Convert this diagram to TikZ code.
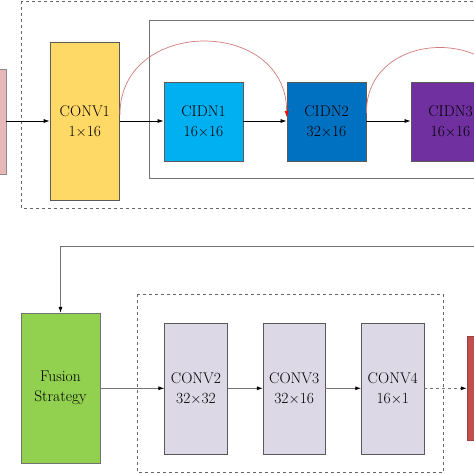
\documentclass[tikz,border=0pt]{standalone}
\usetikzlibrary{arrows.meta}
\definecolor{pinkin}{HTML}{E8B8B8}
\definecolor{convyel}{HTML}{FFD966}
\definecolor{cidnA}{HTML}{00B0F0}
\definecolor{cidnB}{HTML}{0070C0}
\definecolor{cidnC}{HTML}{7030A0}
\definecolor{fusegreen}{HTML}{92D050}
\definecolor{convgray}{HTML}{DCD8E6}
\definecolor{outred}{HTML}{C0504D}
\definecolor{arcred}{HTML}{D07A7A}
\tikzset{
  block/.style={draw=black!65, line width=0.8pt, inner sep=0pt, align=center,
    text=black, font=\fontsize{15.5pt}{20pt}\selectfont},
  arr/.style={line width=0.7pt, -{Latex[length=6pt,width=4pt]}},
  skiparc/.style={arcred, line width=0.7pt, -{Latex[length=6pt,width=4pt,color=red]}},
  grayarr/.style={black!55, line width=0.9pt, -{Latex[length=6pt,width=4pt,color=black]}}
}

\begin{document}
\begin{tikzpicture}[x=1pt,y=1pt]
				\useasboundingbox (0,0) rectangle (474,474);
				\clip (0,0) rectangle (474,474);
				
				% upper part
				\draw[black!60, line width=0.9pt, dashed] (21, 473) rectangle (520, 266);
				\draw[black!55, line width=0.9pt] (149, 453.3) rectangle (520, 296);
				
				\node[block, fill=pinkin, draw=black!45, minimum width=20, minimum height=105] (inp) at (-4, 352.5) {};
				\node[block, fill=convyel, minimum width=69.5, minimum height=158] (conv1) at (84.8, 352.7) {CONV1\\1$\times$16};
				\node[block, fill=cidnA, minimum width=79, minimum height=79] (cidn1) at (203.5, 352.5) {CIDN1\\16$\times$16};
				\node[block, fill=cidnB, minimum width=79, minimum height=79] (cidn2) at (326.5, 352.5) {CIDN2\\32$\times$16};
				\node[block, fill=cidnC, minimum width=79, minimum height=79] (cidn3) at (450.5, 352.5) {CIDN3\\16$\times$16};
				\coordinate (arcend) at (516, 357);
				
				\draw[arr] (inp.east |- 0,353) -- (conv1.west |- 0,353);
				\draw[arr] (conv1.east |- 0,353) -- (cidn1.west |- 0,353);
				\draw[arr] (cidn1.east |- 0,353) -- (cidn2.west |- 0,353);
				\draw[arr] (cidn2.east |- 0,353) -- (cidn3.west |- 0,353);
				
				\draw[skiparc] ([yshift=6.5pt]conv1.east) .. controls (119.5, 457) and (287, 457) .. ([yshift=4.5pt]cidn2.west);
				\draw[arcred, line width=0.7pt] ([yshift=8.5pt]cidn2.east) .. controls (366, 449) and (516, 449) .. (arcend);
				
				% lower part
				\node[block, fill=fusegreen, draw=black!55, minimum width=79, minimum height=150] (fusion) at (60.5, 85.7) {Fusion\\Strategy};
				\draw[black!60, line width=0.8pt, dashed] (137, 180) rectangle (443.3, 1.7);
				\node[block, fill=convgray, minimum width=62.3, minimum height=130.7] (conv2) at (196, 85.3) {CONV2\\32$\times$32};
				\node[block, fill=convgray, minimum width=61.7, minimum height=130.7] (conv3) at (294.2, 85.3) {CONV3\\32$\times$16};
				\node[block, fill=convgray, minimum width=62.3, minimum height=130.7] (conv4) at (392.8, 85.3) {CONV4\\16$\times$1};
				\node[block, fill=outred, draw=outred!80!black, minimum width=24, minimum height=104] (out) at (479.3, 85.3) {};
				\coordinate (fb) at (480, 227.3);
				
				\draw[grayarr] (fb) -| (fusion.north);
				\draw[grayarr] (fusion.east |- 0,85.7) -- (conv2.west |- 0,85.7);
				\draw[grayarr] (conv2.east |- 0,85.7) -- (conv3.west |- 0,85.7);
				\draw[grayarr] (conv3.east |- 0,85.7) -- (conv4.west |- 0,85.7);
				\draw[grayarr, dashed] (conv4.east |- 0,85.7) -- (out.west |- 0,85.7);
			\end{tikzpicture}
\end{document}
